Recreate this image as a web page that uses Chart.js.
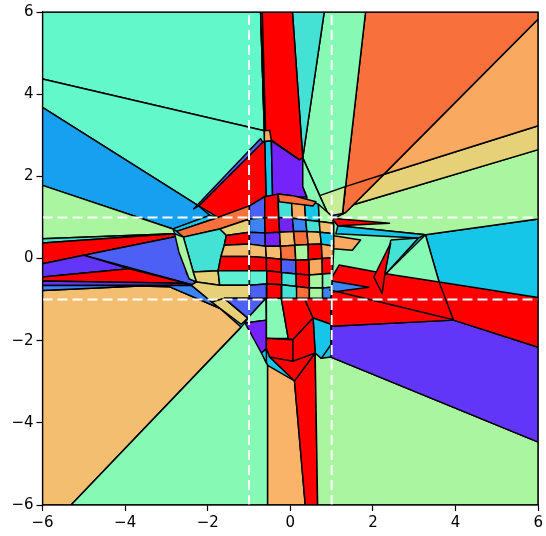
<!DOCTYPE html>
<html>
<head>
<meta charset="utf-8">
<script src="https://cdn.jsdelivr.net/npm/chart.js@4.4.1/dist/chart.umd.min.js"></script>
<style>
  html, body { margin: 0; padding: 0; background: #fff; }
</style>
</head>
<body>
<canvas id="regionChart" width="546" height="536"></canvas>
<script>
// axis ticks and the dashed guide lines
const xTicks = [-6, -4, -2, 0, 2, 4, 6];
const yTicks = [-6, -4, -2, 0, 2, 4, 6];
const guideX = [-1, 1];
const guideY = [-1, 1];

// filler under the central knot so no gaps show through
const coreUnderlay = [[-3.0, 0.8], [-2.3, 1.35], [-0.6, 3.2], [0.4, 2.6], [1.3, 1.2], [3.4, 0.7],
    [3.8, -0.7], [2.3, -1.0], [1.0, -2.6], [0.1, -3.1], [-0.6, -2.8], [-1.2, -1.9], [-2.0, -1.3], [-2.9, -0.8]];

// large outer regions (painted first)
const outerRegions = [
    [[-6, 6], [-0.72, 6], [-0.63, 3.11], [-6, 4.37]],
    [[-6, 4.37], [-0.63, 3.11], [-0.62, 2.85], [-2.22, 1.28], [-6, 3.68]],
    [[-6, 3.68], [-2.22, 1.28], [-1.95, 1.05], [-2.84, 0.72], [-6, 1.78]],
    [[-6, 1.78], [-2.84, 0.72], [-2.8, 0.6], [-6, 0.48]],
    [[-6, -0.78], [-3.64, -0.67], [-2.92, -0.69], [-1.71, -1.21], [-1.19, -1.67], [-5.31, -6], [-6, -6]],
    [[-5.31, -6], [-1.19, -1.67], [-1.05, -1.5], [-0.55, -2.6], [-0.55, -6]],
    [[-0.55, -6], [0.36, -6], [0.1, -2.98], [-0.55, -2.6]],
    [[0.36, -6], [0.66, -6], [0.6, -2.3], [0.1, -2.98]],
    [[0.66, -6], [6, -6], [6, -4.47], [0.98, -2.4], [0.75, -2.43], [0.6, -2.3]],
    [[0.98, -2.4], [6, -4.47], [6, -2.16], [3.95, -1.5], [0.98, -1.65]],
    [[0.98, -1.65], [3.95, -1.5], [6, -2.16], [6, -0.95], [1.18, -0.16], [0.98, -0.5]],
    [[3.27, 0.58], [6, 0.96], [6, -0.95], [3.6, -0.57]],
    [[3.27, 0.58], [3.6, -0.57], [2.31, -0.37]],
    [[1.0, 1.0], [1.42, 1.28], [6, 2.65], [6, 0.96], [3.27, 0.58], [1.15, 0.8]],
    [[2.27, 2.05], [6, 3.23], [6, 2.65], [1.42, 1.28], [1.40, 1.18]],
    [[6, 5.83], [6, 3.23], [2.27, 2.05]],
    [[1.82, 6], [6, 6], [6, 5.83], [1.34, 1.12], [1.26, 1.08]],
    [[0.82, 6], [1.82, 6], [1.26, 1.08], [0.94, 1.02], [0.3, 2.45]],
    [[0.71, 1.53], [1.33, 1.75], [1.26, 1.08], [0.94, 1.02]],
    [[0.05, 6], [0.82, 6], [0.3, 2.45]],
    [[-0.72, 6], [0.05, 6], [0.3, 2.45], [0.22, 2.4], [-0.46, 2.88], [-0.63, 3.11]],
    [[-0.72, 6], [-0.68, 6], [-0.6, 3.12], [-0.63, 3.11]]
];
const outerColors = ['teal', 'teal', 'sky', 'lgreen', 'tan', 'green', 'orange', 'red', 'lgreen', 'purple',
    'red', 'cyan', 'green', 'lgreen', 'yellow', 'lorange', 'ored', 'green', 'ygreen', 'turq', 'red', 'turq'];

// pieces above the centre and the band fan on the left
const upperRegions = [
    [[-0.63, 3.11], [-0.5, 3.12], [-0.46, 2.86], [-0.62, 2.85]],
    [[-0.46, 2.88], [0.22, 2.4], [-0.3, 2.72]],
    [[-0.62, 2.85], [-0.46, 2.86], [-0.43, 1.5], [-0.59, 1.53]],
    [[-0.46, 2.86], [0.22, 2.4], [0.3, 2.45], [0.3, 1.75], [0.4, 1.5], [-0.43, 1.5]],
    [[0.3, 2.45], [0.71, 1.53], [0.94, 1.02], [0.4, 1.1], [0.4, 1.5], [0.3, 1.75]],
    [[-2.22, 1.28], [-0.67, 2.83], [-0.62, 2.85], [-0.59, 1.53], [-0.99, 1.28], [-1.75, 1.0]],
    [[-2.35, 1.2], [-0.72, 2.92], [-0.67, 2.83], [-2.22, 1.28]],
    [[-6, 0.48], [-2.8, 0.6], [-6, 0.38]],
    [[-6, 0.38], [-2.8, 0.6], [-2.7, 0.55], [-5.0, 0.08], [-6, -0.13]],
    [[-5.0, 0.08], [-2.7, 0.55], [-2.51, -0.37], [-2.22, -0.68]],
    [[-6, -0.13], [-5.0, 0.08], [-3.9, -0.25], [-6, -0.45]],
    [[-6, -0.45], [-3.9, -0.25], [-2.22, -0.68], [-2.6, -0.6], [-6, -0.55]],
    [[-6, -0.55], [-2.6, -0.6], [-2.4, -0.65], [-6, -0.66]],
    [[-6, -0.66], [-2.4, -0.65], [-1.71, -1.21], [-2.92, -0.69], [-3.64, -0.67], [-6, -0.78]]
];
const upperColors = ['lorange', 'lgreen', 'cyan', 'violet', 'green', 'red', 'royal',
    'turq', 'red', 'royal', 'purple', 'red', 'purple', 'blue'];

// left part of the central knot
const coreLeftRegions = [
    [[-2.84, 0.72], [-1.95, 1.05], [-1.75, 1.0], [-2.75, 0.66]],
    [[-2.75, 0.66], [-1.75, 1.0], [-0.99, 1.28], [-0.99, 0.96], [-1.71, 0.72], [-2.59, 0.52]],
    [[-1.71, 0.72], [-0.99, 0.96], [-0.99, 0.64], [-1.55, 0.56]],
    [[-2.59, 0.52], [-1.71, 0.72], [-1.55, 0.56], [-1.6, 0.32], [-1.68, 0.05], [-1.75, -0.3], [-2.35, -0.33]],
    [[-2.8, 0.6], [-2.59, 0.52], [-2.35, -0.33], [-2.27, -0.57], [-2.45, -0.5], [-2.7, 0.16]],
    [[-1.55, 0.56], [-0.99, 0.64], [-0.99, 0.35], [-1.6, 0.32]],
    [[-1.6, 0.32], [-0.99, 0.35], [-0.99, 0.05], [-1.68, 0.05]],
    [[-1.68, 0.05], [-0.99, 0.05], [-0.99, -0.3], [-1.75, -0.3]],
    [[-2.35, -0.33], [-1.75, -0.3], [-1.71, -0.65], [-2.27, -0.57]],
    [[-1.75, -0.3], [-0.99, -0.3], [-0.99, -0.65], [-1.71, -0.65]],
    [[-2.4, -0.65], [-2.27, -0.57], [-1.71, -0.65], [-0.99, -0.65], [-0.99, -0.97], [-1.6, -0.97], [-1.9, -1.06]],
    [[-1.9, -1.06], [-1.6, -0.97], [-1.03, -1.45], [-1.19, -1.6], [-1.71, -1.21]],
    [[-1.6, -0.97], [-0.59, -0.97], [-1.03, -1.45]],
    [[-1.03, -1.45], [-0.59, -0.97], [-0.58, -1.5], [-1.1, -1.57]],
    [[-1.1, -1.57], [-0.58, -1.5], [-0.58, -2.2], [-0.7, -2.3]],
    [[-0.7, -2.3], [-0.58, -2.2], [-0.58, -2.55]]
];
const coreLeftColors = ['cyan', 'ored', 'yellow', 'turq', 'lgreen', 'red', 'tan', 'red',
    'yellow', 'lcyan', 'yellow', 'yellow', 'royal', 'green', 'violet', 'cyan'];

// below and right of the central knot
const coreLowRightRegions = [
    [[-0.58, -0.97], [-0.22, -0.97], [-0.05, -1.95], [-0.58, -1.94]],
    [[-0.22, -0.97], [0.34, -0.97], [0.55, -1.45], [0.06, -1.98], [-0.05, -1.95]],
    [[0.34, -0.97], [0.98, -0.97], [0.98, -1.6], [0.55, -1.45]],
    [[0.55, -1.45], [0.98, -1.6], [0.98, -2.1], [0.75, -2.43], [0.6, -2.3]],
    [[-0.58, -1.94], [0.06, -1.98], [0.55, -1.45], [0.6, -2.3], [0.1, -2.98], [-0.5, -2.4], [-0.58, -2.2]],
    [[0.98, 1.0], [1.15, 0.8], [3.1, 0.5], [2.31, -0.37], [1.18, -0.16], [0.98, -0.5]],
    [[1.15, 0.8], [3.27, 0.58], [3.1, 0.5], [1.1, 0.6]],
    [[1.0, 0.98], [2.4, 0.86], [1.15, 0.8]],
    [[0.98, 1.04], [1.3, 1.1], [1.05, 0.97]],
    [[2.43, 0.45], [3.1, 0.5], [2.31, -0.37], [2.3, -0.3]],
    [[2.43, 0.38], [2.3, -0.3], [2.22, -0.85], [2.02, -0.45]],
    [[1.0, -0.55], [1.9, -0.7], [1.0, -0.82]],
    [[1.02, 0.56], [1.7, 0.45], [1.5, 0.2], [1.04, 0.24]]
];
const coreLowRightColors = ['green', 'red', 'red', 'cyan', 'red', 'green', 'cyan', 'red',
    'royal', 'turq', 'red', 'blue', 'lorange'];

// mosaic in the middle: corner points row by row, and the colour of each cell
const coreNodeX = [
    [-0.99, -0.62, -0.30, 0.02, 0.34, 0.68, 1.02],
    [-0.99, -0.62, -0.28, 0.05, 0.37, 0.70, 1.04],
    [-0.99, -0.61, -0.26, 0.08, 0.40, 0.72, 1.05],
    [-0.99, -0.60, -0.24, 0.11, 0.43, 0.75, 1.05],
    [-0.99, -0.58, -0.22, 0.13, 0.45, 0.77, 1.04],
    [-0.99, -0.57, -0.21, 0.14, 0.46, 0.78, 1.02],
    [-0.99, -0.57, -0.21, 0.15, 0.46, 0.78, 1.00],
    [-0.99, -0.58, -0.22, 0.16, 0.46, 0.78, 0.98]
];
const coreNodeY = [
    [1.28, 1.50, 1.57, 1.53, 1.44, 1.32, 1.02],
    [0.96, 0.99, 1.00, 0.98, 0.94, 0.90, 0.86],
    [0.64, 0.62, 0.64, 0.66, 0.66, 0.64, 0.60],
    [0.35, 0.30, 0.30, 0.32, 0.34, 0.35, 0.30],
    [0.05, 0.02, -0.02, -0.04, -0.03, 0.00, 0.02],
    [-0.30, -0.30, -0.34, -0.38, -0.40, -0.38, -0.36],
    [-0.65, -0.62, -0.64, -0.68, -0.72, -0.72, -0.70],
    [-0.97, -0.97, -0.97, -0.97, -0.97, -0.97, -0.97]
];
const coreColors = [
    ['royal', 'red', 'turq', 'lorange', 'cyan', 'lgreen'],
    ['blue', 'red', 'violet', 'blue', 'turq', 'tan'],
    ['royal', 'violet', 'tan', 'ored', 'tan', 'cyan'],
    ['tan', 'tan', 'ored', 'lgreen', 'red', 'lorange'],
    ['red', 'red', 'royal', 'red', 'lorange', 'red'],
    ['lcyan', 'red', 'turq', 'red', 'lgreen', 'green'],
    ['royal', 'red', 'turq', 'ored', 'lgreen', 'blue']
];

// thin band lying over the top of the mosaic
const coreTopBand = [[-0.3, 1.57], [0.06, 1.53], [0.62, 1.38], [0.55, 1.28], [-0.27, 1.38]];

// single boundary lines that have the same colour on both sides
const extraLines = [
    [[1.33, 1.75], [2.27, 2.05]],
    [[0.94, -0.76], [3.95, -1.49]],
    [[3.6, -0.57], [3.95, -1.5]],
    [[0.06, -1.98], [0.06, -2.5]],
    [[-0.5, -2.4], [0.06, -2.5], [0.6, -2.3]]
];

const palette = {
    teal: '#62F8CA', sky: '#18A0F0', lgreen: '#AAF5A0', green: '#86FAB4', tan: '#F4BE70',
    orange: '#FAB46A', lorange: '#FAAA60', ored: '#F8703C', yellow: '#E6D078', red: '#FF0000',
    purple: '#6236F8', violet: '#7424F8', royal: '#4C60F6', blue: '#3C84F4', cyan: '#16C6E8',
    turq: '#44E2D4', lcyan: '#5EF0D2', ygreen: '#C6EE98'
};

function polygonDataset(verts, colorName) {
    const pts = verts.concat([verts[0]]).map(([x, y]) => ({ x: x, y: y }));
    return {
        data: pts,
        backgroundColor: palette[colorName],
        borderColor: '#000',
        borderWidth: 1.5,
        borderJoinStyle: 'round',
        fill: 'shape',
        pointRadius: 0,
        tension: 0
    };
}

function lineDataset(verts) {
    return {
        data: verts.map(([x, y]) => ({ x: x, y: y })),
        borderColor: '#000',
        borderWidth: 1.5,
        fill: false,
        pointRadius: 0,
        tension: 0
    };
}

function guideDataset(pts) {
    return {
        data: pts,
        borderColor: '#fff',
        borderWidth: 2,
        borderDash: [10, 5],
        fill: false,
        pointRadius: 0
    };
}

// painter order: first pushed = bottom
const painted = [polygonDataset(coreUnderlay, 'cyan')];
outerRegions.forEach((p, i) => painted.push(polygonDataset(p, outerColors[i])));
upperRegions.forEach((p, i) => painted.push(polygonDataset(p, upperColors[i])));
coreLeftRegions.forEach((p, i) => painted.push(polygonDataset(p, coreLeftColors[i])));
coreLowRightRegions.forEach((p, i) => painted.push(polygonDataset(p, coreLowRightColors[i])));
for (let r = 0; r < coreColors.length; r++) {
    for (let c = 0; c < coreColors[r].length; c++) {
        const cell = [
            [coreNodeX[r][c], coreNodeY[r][c]],
            [coreNodeX[r][c + 1], coreNodeY[r][c + 1]],
            [coreNodeX[r + 1][c + 1], coreNodeY[r + 1][c + 1]],
            [coreNodeX[r + 1][c], coreNodeY[r + 1][c]]
        ];
        painted.push(polygonDataset(cell, coreColors[r][c]));
    }
}
painted.push(polygonDataset(coreTopBand, 'ored'));
extraLines.forEach(l => painted.push(lineDataset(l)));
guideX.forEach(v => painted.push(guideDataset([{ x: v, y: -6 }, { x: v, y: 6 }])));
guideY.forEach(v => painted.push(guideDataset([{ x: -6, y: v }, { x: 6, y: v }])));

// Chart.js paints dataset 0 last, so flip the list
const datasets = painted.reverse();

const tickLabel = v => (v < 0 ? '\u2212' + Math.abs(v) : String(v));

const framePlugin = {
    id: 'frame',
    afterDraw(chart) {
        const { ctx, chartArea: a } = chart;
        ctx.save();
        ctx.strokeStyle = '#000';
        ctx.lineWidth = 1.2;
        ctx.strokeRect(a.left, a.top, a.right - a.left, a.bottom - a.top);
        ctx.restore();
    }
};

new Chart(document.getElementById('regionChart'), {
    type: 'line',
    data: { datasets: datasets },
    plugins: [framePlugin],
    options: {
        responsive: false,
        animation: false,
        events: [],
        layout: { padding: { top: 9, right: 6.5, left: 0, bottom: 0 } },
        plugins: {
            legend: { display: false },
            tooltip: { enabled: false }
        },
        scales: {
            x: {
                type: 'linear',
                min: -6,
                max: 6,
                afterBuildTicks: s => { s.ticks = xTicks.map(v => ({ value: v })); },
                afterFit: s => { s.height = 31; },
                ticks: {
                    callback: tickLabel,
                    font: { family: 'DejaVu Sans', size: 15 },
                    color: '#000',
                    padding: 3,
                    maxRotation: 0,
                    autoSkip: false
                },
                grid: { drawOnChartArea: false, tickLength: 6, color: '#000', tickWidth: 1.2 },
                border: { display: true, color: '#000', width: 1.2 }
            },
            y: {
                type: 'linear',
                min: -6,
                max: 6,
                afterBuildTicks: s => { s.ticks = yTicks.map(v => ({ value: v })); },
                afterFit: s => { s.width = 42.5; },
                ticks: {
                    callback: tickLabel,
                    font: { family: 'DejaVu Sans', size: 15 },
                    color: '#000',
                    padding: 3,
                    autoSkip: false
                },
                grid: { drawOnChartArea: false, tickLength: 6, color: '#000', tickWidth: 1.2 },
                border: { display: true, color: '#000', width: 1.2 }
            }
        }
    }
});
</script>
</body>
</html>
